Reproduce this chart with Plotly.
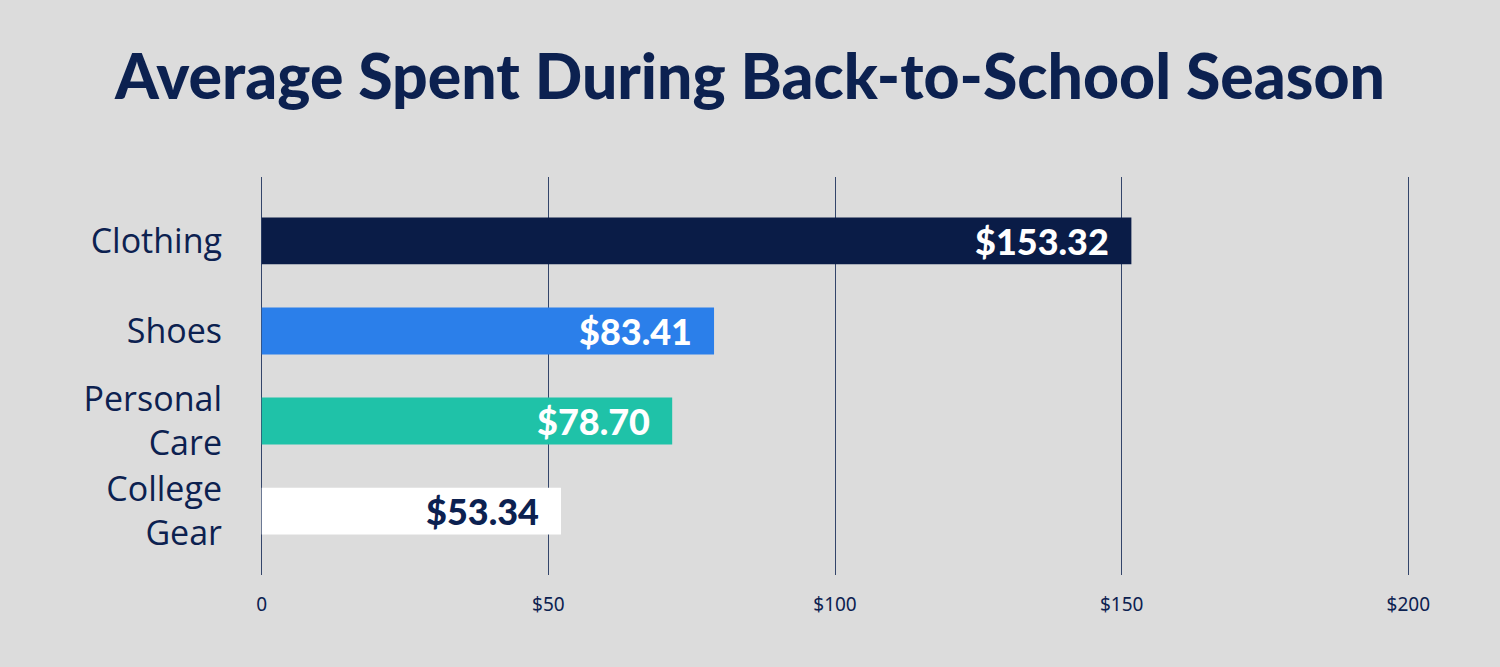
import plotly.graph_objects as go

categories = ["Clothing", "Shoes", "Personal<br>Care", "College<br>Gear"]
bar_lengths = [151.7, 78.9, 71.6, 52.2]   # drawn bar lengths
value_labels = ["$153.32", "$83.41", "$78.70", "$53.34"]
bar_colors = ["#0a1c47", "#2b7fea", "#1fc2a8", "#ffffff"]
label_colors = ["#ffffff", "#ffffff", "#ffffff", "#0c2150"]
tick_vals = [0, 50, 100, 150, 200]
tick_text = ["0", "$50", "$100", "$150", "$200"]

NAVY = "#0c2150"
BG = "#dcdcdc"

fig = go.Figure()
fig.add_trace(go.Bar(
    y=categories, x=bar_lengths, orientation="h",
    marker=dict(color=bar_colors, line=dict(width=0)),
    width=0.52, hoverinfo="skip",
))

for cat, val, txt, col in zip(categories, bar_lengths, value_labels, label_colors):
    fig.add_annotation(x=val, y=cat, text=txt, showarrow=False,
                       xanchor="right", xshift=-20, yshift=0,
                       font=dict(family="Lato", size=36, color=col, weight=900))

fig.update_layout(
    width=1500, height=667,
    paper_bgcolor=BG, plot_bgcolor=BG,
    margin=dict(l=256.3, r=86.2, t=177, b=92),
    showlegend=False,
    title=dict(text="Average Spent During Back-to-School Season",
               x=0.5, xanchor="center", y=0.884, yanchor="middle",
               font=dict(family="Lato", size=62.5, color=NAVY, weight=900)),
    xaxis=dict(range=[-1, 201], tickvals=tick_vals, ticktext=tick_text,
               showgrid=True, gridcolor="#33456a", gridwidth=1,
               zeroline=False, showline=False, ticks="",
               tickfont=dict(family="Noto Sans", size=19, color=NAVY),
               ticklabelstandoff=16),
    yaxis=dict(autorange=False, range=[3.71, -0.71], showgrid=False,
               zeroline=False, showline=False, ticks="",
               tickfont=dict(family="Open Sans", size=34, color=NAVY),
               ticklabelstandoff=33),
)

fig.write_html("out.html")
